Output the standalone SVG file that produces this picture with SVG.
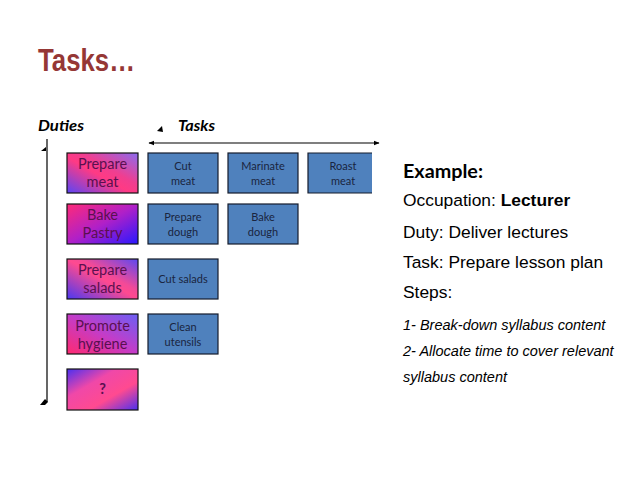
<svg xmlns="http://www.w3.org/2000/svg" width="638" height="479" viewBox="0 0 638 479">
<defs>
<style>
.title{font-family:"Liberation Sans",Arial,sans-serif;font-weight:bold;font-size:32px;fill:#953735}
.hdr{font-family:Lato,"Liberation Sans",sans-serif;font-weight:bold;font-style:italic;font-size:16px;fill:#000}
.duty{stroke:#111;stroke-width:1.2}
.dt{font-family:Lato,"Liberation Sans",sans-serif;font-size:14.5px;fill:#5a1050;text-anchor:middle}
.task{fill:#4f81bd;stroke:#141c2c;stroke-width:1.2}
.tt{font-family:Lato,"Liberation Sans",sans-serif;font-size:11px;fill:#1a2540;text-anchor:middle}
.ex{font-family:Lato,"Liberation Sans",sans-serif;font-weight:bold;font-size:18px;fill:#000}
.rt{font-family:"Liberation Sans",Arial,sans-serif;font-size:17.4px;fill:#000}
.it{font-family:"Liberation Sans",Arial,sans-serif;font-style:italic;font-size:14.5px;fill:#000}
.ln{stroke:#000;stroke-width:1.2;fill:none}
</style>
<linearGradient id="g1" x1="0" y1="1" x2="1" y2="0">
<stop offset="0" stop-color="#5a45f5"/><stop offset="0.45" stop-color="#ff3a84"/><stop offset="0.6" stop-color="#f03e90"/><stop offset="1" stop-color="#8a6cf0"/>
</linearGradient>
<linearGradient id="g2" x1="0" y1="0" x2="1" y2="1">
<stop offset="0" stop-color="#ff2a78"/><stop offset="0.5" stop-color="#b020c8"/><stop offset="1" stop-color="#2818ff"/>
</linearGradient>
<linearGradient id="g3" x1="0" y1="1" x2="1" y2="0">
<stop offset="0" stop-color="#4a38f0"/><stop offset="0.5" stop-color="#ff4a90"/><stop offset="0.6" stop-color="#f24a98"/><stop offset="1" stop-color="#5a48f2"/>
</linearGradient>
<linearGradient id="g4" x1="0" y1="1" x2="1" y2="0">
<stop offset="0" stop-color="#ff2a70"/><stop offset="0.5" stop-color="#c43cc8"/><stop offset="1" stop-color="#6a60f5"/>
</linearGradient>
<linearGradient id="g5" x1="0" y1="0" x2="1" y2="1">
<stop offset="0" stop-color="#4a30f0"/><stop offset="0.35" stop-color="#f048a8"/><stop offset="0.65" stop-color="#ff4a90"/><stop offset="1" stop-color="#4a30f0"/>
</linearGradient>
<marker id="ah" viewBox="0 0 10 10" refX="9" refY="5" markerWidth="6" markerHeight="6" orient="auto-start-reverse" markerUnits="userSpaceOnUse">
<path d="M0,1 L10,5 L0,9 z" fill="#000"/>
</marker>
</defs>
<rect width="638" height="479" fill="#fff"/>
<text class="title" x="38" y="71" textLength="97" lengthAdjust="spacingAndGlyphs">Tasks…</text>
<text class="hdr" x="38" y="131" textLength="46" lengthAdjust="spacingAndGlyphs">Duties</text>
<text class="hdr" x="178" y="131" textLength="37" lengthAdjust="spacingAndGlyphs">Tasks</text>

<g id="connectors">
<line class="ln" x1="149" y1="143" x2="379" y2="143" marker-start="url(#ah)" marker-end="url(#ah)"/>
<path d="M157,131 L162,126 L163,132 z" fill="#000"/>
<line class="ln" x1="47" y1="139" x2="47" y2="402"/>
<path d="M41,151 L46,147 L46,151 z" fill="#000"/>
<path d="M40,405 L45,399 L48,402 L45,405 z" fill="#000"/>
</g>

<g id="d1"><rect class="duty" x="67" y="153" width="71" height="40" fill="url(#g1)"/><text class="dt" x="102.5" y="169">Prepare</text><text class="dt" x="102.5" y="187">meat</text></g>
<g id="d2"><rect class="duty" x="67" y="204" width="71" height="40" fill="url(#g2)"/><text class="dt" x="102.5" y="220">Bake</text><text class="dt" x="102.5" y="238">Pastry</text></g>
<g id="d3"><rect class="duty" x="67" y="259" width="71" height="40" fill="url(#g3)"/><text class="dt" x="102.5" y="275">Prepare</text><text class="dt" x="102.5" y="293">salads</text></g>
<g id="d4"><rect class="duty" x="67" y="314" width="71" height="40" fill="url(#g4)"/><text class="dt" x="102.5" y="331">Promote</text><text class="dt" x="102.5" y="349">hygiene</text></g>
<g id="d5"><rect class="duty" x="67" y="369" width="71" height="41" fill="url(#g5)"/><text class="dt" x="102.5" y="394" font-weight="bold">?</text></g>

<g id="t1"><rect class="task" x="148" y="153" width="70" height="40"/><text class="tt" x="183" y="170">Cut</text><text class="tt" x="183" y="185">meat</text></g>
<g id="t2"><rect class="task" x="228" y="153" width="70" height="40"/><text class="tt" x="263" y="170">Marinate</text><text class="tt" x="263" y="185">meat</text></g>
<g id="t3"><rect x="308" y="153" width="64" height="40" fill="#4f81bd"/><path d="M372,153 L308,153 L308,193 L372,193" fill="none" stroke="#141c2c" stroke-width="1.2"/><text class="tt" x="343" y="170">Roast</text><text class="tt" x="343" y="185">meat</text></g>
<g id="t4"><rect class="task" x="148" y="204" width="70" height="40"/><text class="tt" x="183" y="221">Prepare</text><text class="tt" x="183" y="236">dough</text></g>
<g id="t5"><rect class="task" x="228" y="204" width="70" height="40"/><text class="tt" x="263" y="221">Bake</text><text class="tt" x="263" y="236">dough</text></g>
<g id="t6"><rect class="task" x="148" y="259" width="70" height="40"/><text class="tt" x="183" y="283">Cut salads</text></g>
<g id="t7"><rect class="task" x="148" y="314" width="70" height="40"/><text class="tt" x="183" y="331">Clean</text><text class="tt" x="183" y="346">utensils</text></g>

<g id="example">
<text class="ex" x="403" y="178" textLength="80" lengthAdjust="spacingAndGlyphs">Example:</text>
<text class="rt" x="403" y="206">Occupation: <tspan font-weight="bold">Lecturer</tspan></text>
<text class="rt" x="403" y="238">Duty: Deliver lectures</text>
<text class="rt" x="403" y="268">Task: Prepare lesson plan</text>
<text class="rt" x="403" y="298">Steps:</text>
<text class="it" x="403" y="330">1- Break-down syllabus content</text>
<text class="it" x="403" y="356">2- Allocate time to cover relevant</text>
<text class="it" x="403" y="382">syllabus content</text>
</g>
</svg>
